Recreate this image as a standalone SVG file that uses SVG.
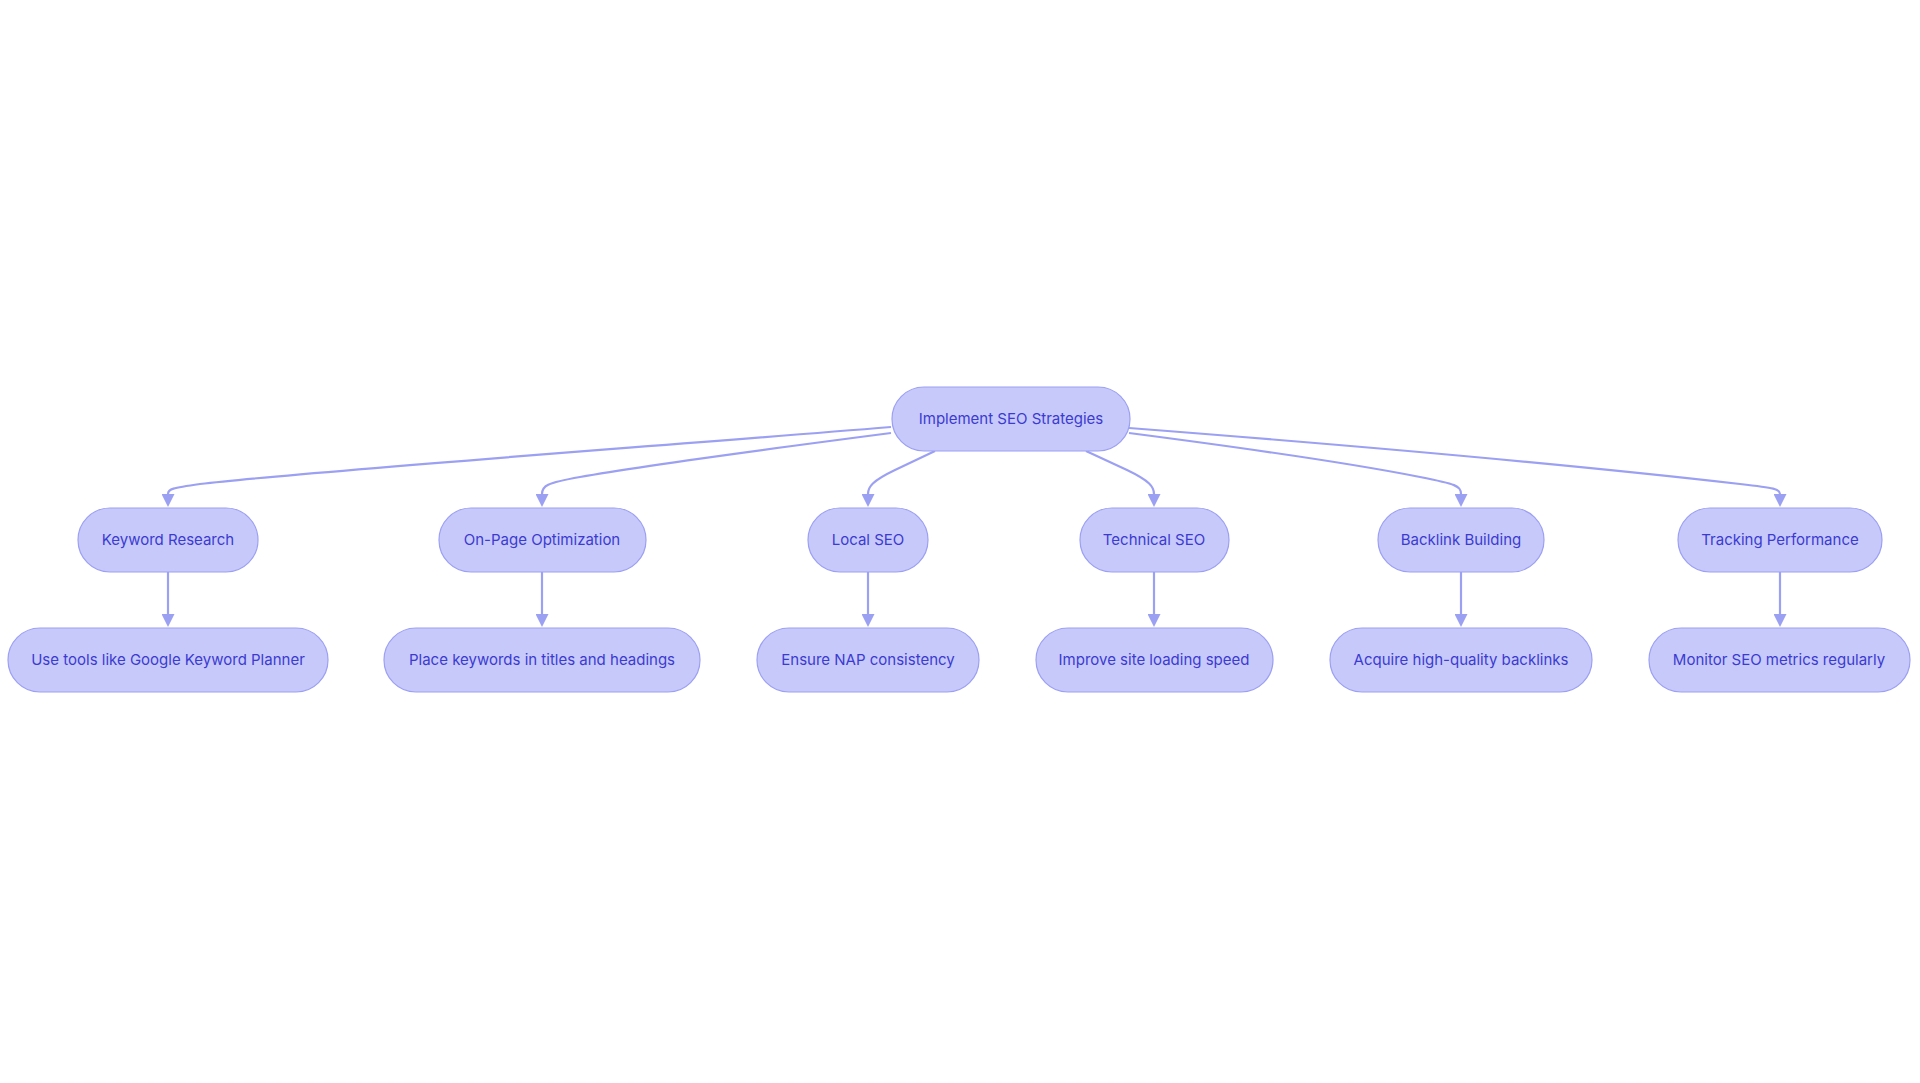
<svg xmlns="http://www.w3.org/2000/svg" width="1920" height="1083" viewBox="0 0 1920 1083">
<style>
.node rect{fill:#c7c9fb;stroke:#9ca0f2;stroke-width:1.2}
.node text{font-family:Inter,"Noto Sans",sans-serif;font-size:15px;fill:#3b3bd0;text-anchor:middle;dominant-baseline:central}
.edge{fill:none;stroke:#9ca0f2;stroke-width:2.2;marker-end:url(#arrow)}
</style>
<defs>
<marker id="arrow" viewBox="0 0 10 10" refX="0" refY="5" markerUnits="userSpaceOnUse" markerWidth="14" markerHeight="13" orient="auto">
<path d="M0,0 L10,5 L0,10 z" fill="#9ca0f2"/>
</marker>
</defs>
<rect width="1920" height="1083" fill="#ffffff"/>
<g id="connectors">
<path class="edge" d="M891,427 C620,449 300,472 200,484 C172,488 168,489 168,494"/>
<path class="edge" d="M891,433 C760,450 640,466 580,477 C546,483 542,486 542,494"/>
<path class="edge" d="M935,451 L895,470 C872,481 868,487 868,494"/>
<path class="edge" d="M1086,451 L1127,470 C1150,481 1154,487 1154,494"/>
<path class="edge" d="M1129,433 C1260,450 1350,463 1420,477 C1456,484 1461,486 1461,494"/>
<path class="edge" d="M1129,428 C1400,449 1600,468 1740,484 C1775,488 1780,489 1780,494"/>
<path class="edge" d="M168,572 L168,614"/>
<path class="edge" d="M542,572 L542,614"/>
<path class="edge" d="M868,572 L868,614"/>
<path class="edge" d="M1154,572 L1154,614"/>
<path class="edge" d="M1461,572 L1461,614"/>
<path class="edge" d="M1780,572 L1780,614"/>
</g>
<g id="root" class="node"><rect x="892" y="387" width="238" height="64" rx="32"/><text x="1011" y="418">Implement SEO Strategies</text></g>
<g id="keyword-research" class="node"><rect x="78" y="508" width="180" height="64" rx="32"/><text x="168" y="539">Keyword Research</text></g>
<g id="on-page" class="node"><rect x="439" y="508" width="207" height="64" rx="32"/><text x="542" y="539">On-Page Optimization</text></g>
<g id="local-seo" class="node"><rect x="808" y="508" width="120" height="64" rx="32"/><text x="868" y="539">Local SEO</text></g>
<g id="technical-seo" class="node"><rect x="1080" y="508" width="149" height="64" rx="32"/><text x="1154" y="539">Technical SEO</text></g>
<g id="backlink-building" class="node"><rect x="1378" y="508" width="166" height="64" rx="32"/><text x="1461" y="539">Backlink Building</text></g>
<g id="tracking-performance" class="node"><rect x="1678" y="508" width="204" height="64" rx="32"/><text x="1780" y="539">Tracking Performance</text></g>
<g id="use-tools" class="node"><rect x="8" y="628" width="320" height="64" rx="32"/><text x="168" y="659">Use tools like Google Keyword Planner</text></g>
<g id="place-keywords" class="node"><rect x="384" y="628" width="316" height="64" rx="32"/><text x="542" y="659">Place keywords in titles and headings</text></g>
<g id="ensure-nap" class="node"><rect x="757" y="628" width="222" height="64" rx="32"/><text x="868" y="659">Ensure NAP consistency</text></g>
<g id="improve-speed" class="node"><rect x="1036" y="628" width="237" height="64" rx="32"/><text x="1154" y="659">Improve site loading speed</text></g>
<g id="acquire-backlinks" class="node"><rect x="1330" y="628" width="262" height="64" rx="32"/><text x="1461" y="659">Acquire high-quality backlinks</text></g>
<g id="monitor-metrics" class="node"><rect x="1649" y="628" width="261" height="64" rx="32"/><text x="1779" y="659">Monitor SEO metrics regularly</text></g>
</svg>
